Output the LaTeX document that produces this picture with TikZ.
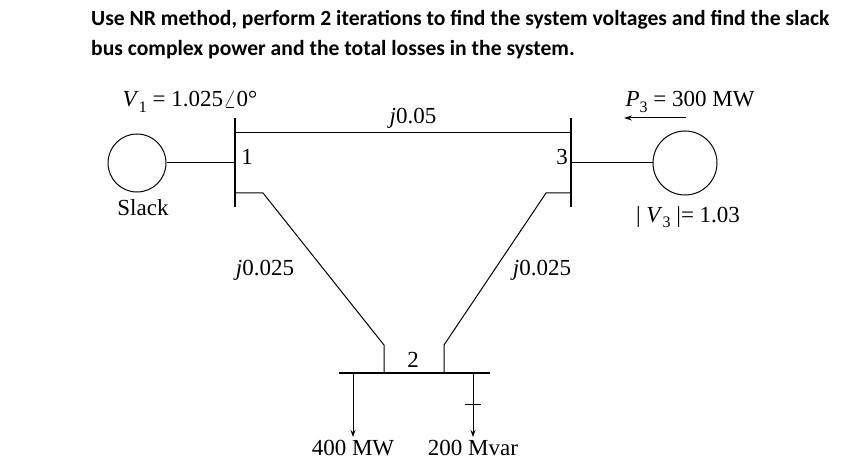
\documentclass[tikz,border=0pt]{standalone}
\usepackage{fontspec}
\setmainfont{Liberation Serif}
\newfontfamily\titlefont{Carlito}
\usetikzlibrary{arrows.meta}
\newcommand{\mysub}[1]{\raisebox{-0.25em}{\fontsize{16}{16}\selectfont #1}}
\begin{document}
\begin{tikzpicture}[x=1pt,y=-1pt,
  bus/.style={line width=1.8pt},
  ln/.style={line width=1pt},
  lbl/.style={font=\fontsize{23}{25}\selectfont, inner sep=0pt},
  ttl/.style={font=\titlefont\bfseries\fontsize{21.6}{24}\selectfont, anchor=west, inner sep=0pt},
  ld/.style={ln,-{Stealth[length=7pt,width=5pt]}}]
\useasboundingbox (0,0) rectangle (867,473);
\node[ttl] (t1) at (91,20) {Use NR method, perform 2 iterations to find the system voltages and find the slack};
\node[ttl] (t2) at (91,50) {bus complex power and the total losses in the system.};
% buses
\coordinate (b1t) at (235,118); \coordinate (b1b) at (235,207);
\coordinate (b3t) at (571,118); \coordinate (b3b) at (571,207);
\coordinate (b2l) at (339,373); \coordinate (b2r) at (490,373);
\draw[bus] (b1t) -- (b1b);
\draw[bus] (b3t) -- (b3b);
\draw[bus] (b2l) -- (b2r);
% generators
\node[circle, draw, line width=1pt, minimum size=58pt, inner sep=0pt] (g1) at (137,163) {};
\node[circle, draw, line width=1pt, minimum size=64pt, inner sep=0pt] (g3) at (685,163) {};
\coordinate (b1g) at (235,163); \coordinate (b3g) at (571,163);
\draw[ln] (g1.east) -- (b1g);
\draw[ln] (g3.west) -- (b3g);
% lines
\coordinate (a1) at (235,133); \coordinate (a3) at (571,133);
\draw[ln] (a1) -- (a3);
\coordinate (c1) at (235,193); \coordinate (c2) at (384,373);
\draw[ln] (c1) -- (263,193) -- (384,345) -- (c2);
\coordinate (d3) at (571,193); \coordinate (d2) at (444,373);
\draw[ln] (d3) -- (546,193) -- (444,345) -- (d2);
% loads
\coordinate (l1) at (353,373); \coordinate (l1e) at (353,437);
\coordinate (l2) at (473,373); \coordinate (l2e) at (473,437);
\draw[ld] (l1) -- (l1e);
\draw[ld] (l2) -- (l2e);
\coordinate (tk1) at (465,404); \coordinate (tk2) at (481,404);
\draw[ln] (tk1) -- (tk2);
% P3 arrow
\coordinate (p1) at (686,118); \coordinate (p2) at (624,118);
\draw[ln,-{Stealth[length=8pt,width=5pt]}] (p1) -- (p2);
% labels
\node[lbl] (v1) at (190,102) {\textit{V}\mysub{1} = 1.025$\angle$0°};
\node[lbl] (z12) at (413,118) {\textit{j}0.05};
\node[lbl] (n1) at (247,157) {1};
\node[lbl] (n3) at (562,157) {3};
\node[lbl] (sl) at (143,208) {Slack};
\node[lbl] (v3) at (688,217) {| \textit{V}\mysub{3} |= 1.03};
\node[lbl] (p3) at (690,102) {\textit{P}\mysub{3} = 300 MW};
\node[lbl] (z1) at (265,270) {\textit{j}0.025};
\node[lbl] (z2) at (542,270) {\textit{j}0.025};
\node[lbl] (n2) at (413,360) {2};
\node[lbl] (ld1) at (353,448) {400 MW};
\node[lbl] (ld2) at (473,448) {200 Mvar};
\end{tikzpicture}
\end{document}
